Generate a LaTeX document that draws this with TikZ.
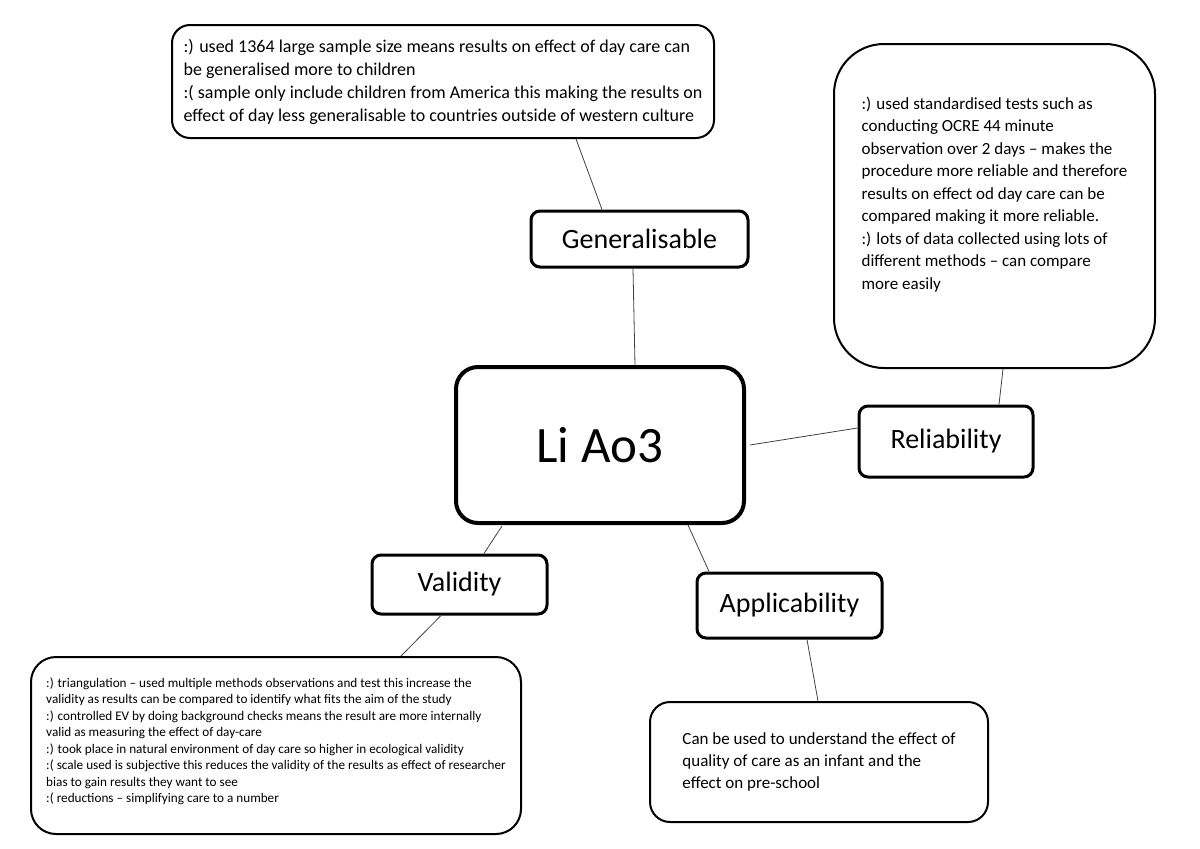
\documentclass[tikz,border=0pt]{standalone}
\usepackage{fontspec}
\setmainfont{Carlito}
\usepackage{tikz}
\usetikzlibrary{calc}

\begin{document}
\begin{tikzpicture}[
		x=1pt, y=-1pt,
		topic/.style={draw, line width=3pt, rounded corners=9pt, inner sep=0pt, font=\fontsize{28}{34}\selectfont},
		hub/.style={draw, line width=4pt, rounded corners=22pt, inner sep=0pt, font=\fontsize{51}{60}\selectfont},
		note/.style={draw, line width=2pt, align=left, inner sep=0pt, font=\fontsize{17}{22.5}\selectfont},
		link/.style={line width=0.8pt, black!75}
	]
	
	% the page
	\useasboundingbox (0,0) rectangle (1200,849);
	
	% the centre of the map
	\node[hub, minimum width=288pt, minimum height=156pt] (li) at (600,445) {Li Ao3};
	
	% the four headings
	\node[topic, minimum width=217pt, minimum height=56pt] (gen) at (639.5,239) {Generalisable};
	\node[topic, minimum width=174pt, minimum height=71pt] (rel) at (946,441.5) {Reliability};
	\node[topic, minimum width=175pt, minimum height=59pt] (val) at (459.5,584.5) {Validity};
	\node[topic, minimum width=185pt, minimum height=65pt] (app) at (789.5,605.5) {Applicability};
	
	% the notes under each heading
	\node[note, rounded corners=18pt, minimum width=542pt, minimum height=113pt, font=\fontsize{18}{23}\selectfont] (gennote) at (443,81.5) {:) used 1364 large sample size means results on effect of day care can\\
		be generalised more to children\\
		:( sample only include children from America this making the results on\\
		effect of day less generalisable to countries outside of western culture};
	\node[note, rounded corners=50pt, minimum width=321pt, minimum height=324pt] (relnote) at (994.5,206) {:) used standardised tests such as\\
		conducting OCRE 44 minute\\
		observation over 2 days – makes the\\
		procedure more reliable and therefore\\
		results on effect od day care can be\\
		compared making it more reliable.\\
		:) lots of data collected using lots of\\
		different methods – can compare\\
		more easily\\[3pt]\mbox{}};
	\node[note, rounded corners=25pt, minimum width=490pt, minimum height=177pt, font=\fontsize{13.2}{16.5}\selectfont] (valnote) at (276,745.5) {:) triangulation – used multiple methods observations and test this increase the\\
		validity as results can be compared to identify what fits the aim of the study\\
		:) controlled EV by doing background checks means the result are more internally\\
		valid as measuring the effect of day-care\\
		:) took place in natural environment of day care so higher in ecological validity\\
		:( scale used is subjective this reduces the validity of the results as effect of researcher\\
		bias to gain results they want to see\\
		:( reductions – simplifying care to a number\\[-6pt]\mbox{}};
	\node[note, rounded corners=20pt, minimum width=338pt, minimum height=120pt, font=\fontsize{17}{22}\selectfont] (appnote) at (819,762) {Can be used to understand the effect of\\
		quality of care as an infant and the\\
		effect on pre-school};
	
	% connect the boxes
	\draw[link] ($(gennote.south)+(133,0)$) -- ($(gen.north)+(-37.5,0)$);
	\draw[link] ($(gen.south)+(-6.5,0)$) -- ($(li.north)+(35,0)$);
	\draw[link] ($(li.east)+(4,0)$) -- ($(rel.west)+(0,-13.5)$);
	\draw[link] ($(rel.north)+(53,0)$) -- ($(relnote.south)+(8.5,0)$);
	\draw[link] ($(li.south)+(-98,1)$) -- ($(val.north)+(24.5,0)$);
	\draw[link] ($(val.south)+(-18.5,0)$) -- ($(valnote.north)+(125,0)$);
	\draw[link] ($(li.south)+(88,0)$) -- ($(app.north)+(-80.5,0)$);
	\draw[link] ($(app.south)+(17.5,0)$) -- ($(appnote.north)+(-1,0)$);
	
\end{tikzpicture}
\end{document}
